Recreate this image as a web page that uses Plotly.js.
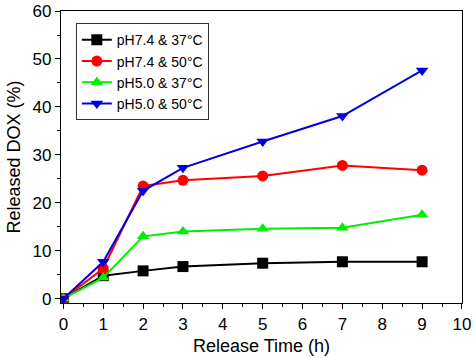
<!DOCTYPE html>
<html><head><script src="https://cdn.plot.ly/plotly-3.0.1.min.js"></script>
<style>body{margin:0}</style></head>
<body><div id="c" style="width:474px;height:358px"></div>
<script>
const time = [0, 1, 2, 3, 5, 7, 9];
const names = ["pH7.4 & 37°C", "pH7.4 & 50°C", "pH5.0 & 37°C", "pH5.0 & 50°C"];
const ph74_37 = [0, 4.8, 5.8, 6.7, 7.4, 7.7, 7.7];
const ph74_50 = [0, 6.3, 23.5, 24.7, 25.6, 27.8, 26.8];
const ph50_37 = [0, 4.4, 13.0, 14.0, 14.6, 14.8, 17.5];
const ph50_50 = [0, 7.7, 22.5, 27.3, 32.8, 38.1, 47.6];
const series = [ph74_37, ph74_50, ph50_37, ph50_50];
const colors = ["#000000", "#ff0000", "#00ee00", "#0000dd"];
const symbols = ["square", "circle", "triangle-up", "triangle-down"];
const traces = series.map((s, i) => ({
  x: time, y: s, name: names[i], type: "scatter", mode: "lines+markers",
  line: {color: colors[i], width: 2},
  marker: {symbol: symbols[i], size: 11, color: colors[i]}
}));
const font = {family: "Liberation Sans, Arial, sans-serif", color: "#000"};
const ax = {
  showline: true, linecolor: "#000", linewidth: 1.3, mirror: true,
  ticks: "outside", ticklen: 5, tickwidth: 1.3, tickcolor: "#000",
  showgrid: false, zeroline: false, ticklabeloverflow: "allow",
  tickfont: {size: 17, family: font.family, color: "#000"},
  minor: {ticks: "outside", ticklen: 3, tickcolor: "#000", tickwidth: 1}
};
Plotly.newPlot("c", traces, {
  width: 474, height: 358,
  margin: {l: 61, r: 12, t: 11, b: 55},
  paper_bgcolor: "#fff", plot_bgcolor: "#fff",
  font: font,
  showlegend: true,
  legend: {x: 0.037, y: 0.958, xanchor: "left", yanchor: "top",
    bordercolor: "#333", borderwidth: 1, bgcolor: "#fff",
    font: {size: 14, family: font.family, color: "#000"}, tracegroupgap: 0, itemwidth: 30},
  xaxis: Object.assign({}, ax, {range: [-0.06, 10.001], dtick: 1, tick0: 0,
    minor: Object.assign({}, ax.minor, {dtick: 0.5}),
    title: {text: "Release Time (h)", font: {size: 18, family: font.family, color: "#000"}, standoff: 6}}),
  yaxis: Object.assign({}, ax, {range: [-0.9, 60.01], dtick: 10, tick0: 0,
    minor: Object.assign({}, ax.minor, {dtick: 5}),
    title: {text: "Released DOX (%)", font: {size: 18, family: font.family, color: "#000"}, standoff: 7}})
}, {displayModeBar: false});
</script></body></html>
